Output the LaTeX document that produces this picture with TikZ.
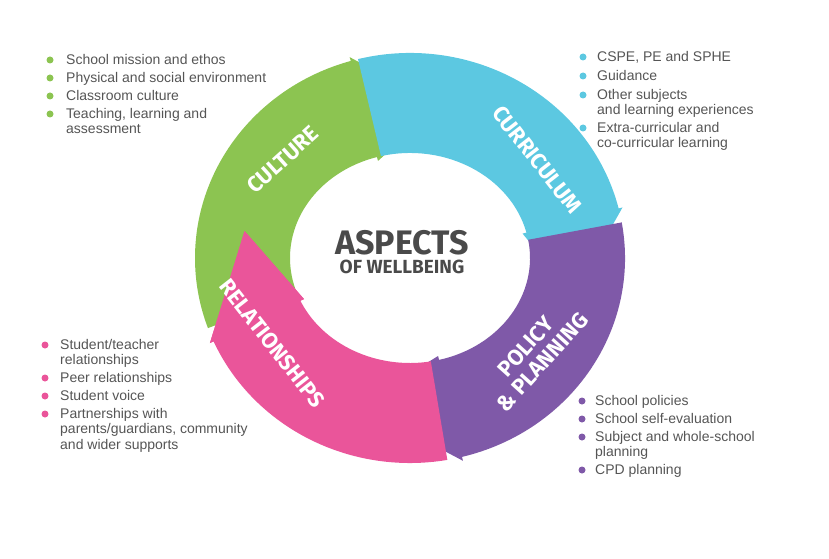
\documentclass[tikz,border=0pt]{standalone}
\usepackage{fontspec}
\setmainfont{Liberation Sans}
\newfontfamily\headfont{Fira Sans}
\usetikzlibrary{calc}
\definecolor{cgreen}{HTML}{8CC451}
\definecolor{ccyan}{HTML}{5CC8E1}
\definecolor{cpurple}{HTML}{7F59A8}
\definecolor{cpink}{HTML}{EA559A}
\definecolor{ctext}{HTML}{555555}
\definecolor{ctitle}{HTML}{4A4A4A}
\tikzset{
  item/.style={anchor=north west,align=left,inner sep=0pt,text=ctext,
    font=\fontsize{14}{15.5}\selectfont},
  dot/.style={circle,fill=#1,inner sep=0pt,minimum size=7pt},
  seg/.style={white,font=\headfont\fontsize{22}{23}\selectfont\bfseries,align=center}
}
\begin{document}
\begin{tikzpicture}[x=1pt,y=1pt]
\useasboundingbox (0,0) rectangle (829,558);
\coordinate (C) at (410,300);
% ring arrows, drawn so that each head lies over the next tail
\foreach \col/\t/\b/\p in {cgreen/200/106/80,ccyan/104/14/-14,cpurple/10/-76/-108,cpink/-80/-156/-190}{
  \fill[\col] ($(C)+(\t:215 and 205)$)
    arc[start angle=\t,end angle=\b,x radius=215,y radius=205]
    -- ($(C)+(\b:219 and 209)$) -- ($(C)+(\p:168 and 155)$)
    -- ($(C)+(\b:116 and 101)$) -- ($(C)+(\b:120 and 105)$)
    arc[start angle=\b,end angle=\t,x radius=120,y radius=105] -- cycle;}
% the pink head has to cover the green tail
\fill[cpink] ($(C)+(-156:215 and 205)$) -- ($(C)+(-156:219 and 209)$)
  -- ($(C)+(-190:168 and 155)$) -- ($(C)+(-156:116 and 101)$)
  -- ($(C)+(-156:120 and 105)$) -- cycle;
% segment labels
\node[seg,rotate=42] (culture) at ($(C)+(140:166 and 153)$) {CULTURE};
\node[seg,rotate=-52] (curriculum) at ($(C)+(40:166 and 153)$) {CURRICULUM};
\node[seg,rotate=48] (policy) at ($(C)+(-40:162 and 150)$) {POLICY\\\& PLANNING};
\node[seg,rotate=-52] (relations) at ($(C)+(-146:166 and 153)$) {RELATIONSHIPS};
\node[text=ctitle,font=\headfont\bfseries\fontsize{34}{35}\selectfont] (aspects) at (402,315) {ASPECTS};
\node[text=ctitle,font=\headfont\bfseries\fontsize{19}{20}\selectfont,below=-2pt] (wellbeing) at (aspects.south) {OF WELLBEING};
% lists
\foreach \y/\txt [count=\i] in {504/School mission and ethos,486/Physical and social environment,468/Classroom culture,450/{Teaching, learning and\\assessment}}{
  \node[dot=cgreen] (g\i) at (50,\y-6) {};
  \node[item] (gt\i) at (66,\y) {\txt};}
\foreach \y/\txt [count=\i] in {507/{CSPE, PE and SPHE},488/Guidance,469/{Other subjects\\and learning experiences},436/{Extra-curricular and\\co-curricular learning}}{
  \node[dot=ccyan] (c\i) at (583,\y-6) {};
  \node[item] (ct\i) at (597,\y) {\txt};}
\foreach \y/\txt [count=\i] in {219/{Student/teacher\\relationships},186/Peer relationships,168/Student voice,150/{Partnerships with\\parents/guardians, community\\and wider supports}}{
  \node[dot=cpink] (p\i) at (45,\y-6) {};
  \node[item] (pt\i) at (60,\y) {\txt};}
\foreach \y/\txt [count=\i] in {163/School policies,145/School self-evaluation,127/{Subject and whole-school\\planning},94/CPD planning}{
  \node[dot=cpurple] (u\i) at (582,\y-6) {};
  \node[item] (ut\i) at (595,\y) {\txt};}
\end{tikzpicture}
\end{document}
